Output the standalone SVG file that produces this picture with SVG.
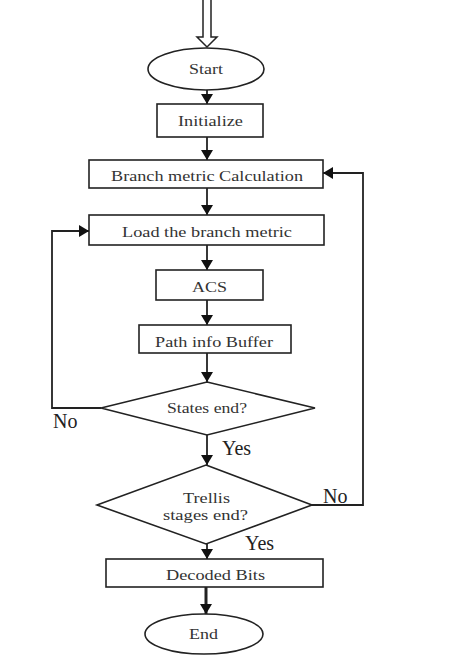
<svg xmlns="http://www.w3.org/2000/svg" width="474" height="664" viewBox="0 0 474 664">
<defs>
<style>
.box{fill:#fff;stroke:#222;stroke-width:1.6}
.t{font-family:"Liberation Serif","Times New Roman",serif;font-size:15px;fill:#333}
.lbl{font-family:"Liberation Serif","Times New Roman",serif;font-size:20px;fill:#222}
.ln{fill:none;stroke:#222;stroke-width:1.8}
</style>
<marker id="ah" viewBox="0 0 10 12" refX="10" refY="6" markerWidth="10" markerHeight="12" markerUnits="userSpaceOnUse" orient="auto">
<path d="M0,0 L10,6 L0,12 Z" fill="#111"/>
</marker>
</defs>
<rect width="474" height="664" fill="#fff"/>
<g id="connectors">
<path class="ln" d="M207,90 V104" marker-end="url(#ah)"/>
<path class="ln" d="M207,137 V160" marker-end="url(#ah)"/>
<path class="ln" d="M207,188 V215" marker-end="url(#ah)"/>
<path class="ln" d="M207,245 V270" marker-end="url(#ah)"/>
<path class="ln" d="M207,300 V325" marker-end="url(#ah)"/>
<path class="ln" d="M207,353 V382" marker-end="url(#ah)"/>
<path class="ln" d="M207,435 V465" marker-end="url(#ah)"/>
<path class="ln" d="M207,544 V559" marker-end="url(#ah)"/>
<path class="ln" d="M206,587 V614" style="stroke-width:3" marker-end="url(#ah)"/>
<path class="ln" d="M101,408 H52 V231 H89" marker-end="url(#ah)"/>
<path class="ln" d="M312,505 H363 V173 H323" marker-end="url(#ah)"/>
</g>
<g id="input">
<path d="M203,0 V37 H197 L207,47 L217,37 H211 V0" fill="#fff" stroke="#222" stroke-width="1.5"/>
</g>
<g id="start">
<ellipse class="box" cx="206" cy="69" rx="58" ry="21"/>
<text class="t" x="206" y="74" text-anchor="middle" textLength="34" lengthAdjust="spacingAndGlyphs">Start</text>
</g>
<g id="initialize">
<rect class="box" x="157" y="104" width="106" height="33"/>
<text class="t" x="210.5" y="126" text-anchor="middle" textLength="65" lengthAdjust="spacingAndGlyphs">Initialize</text>
</g>
<g id="branch">
<rect class="box" x="89" y="160" width="234" height="28"/>
<text class="t" x="207" y="181" text-anchor="middle" textLength="192" lengthAdjust="spacingAndGlyphs">Branch metric Calculation</text>
</g>
<g id="load">
<rect class="box" x="89" y="215" width="235" height="30"/>
<text class="t" x="207" y="237" text-anchor="middle" textLength="170" lengthAdjust="spacingAndGlyphs">Load the branch metric</text>
</g>
<g id="acs">
<rect class="box" x="156" y="270" width="107" height="30"/>
<text class="t" x="209.5" y="292" text-anchor="middle" textLength="35" lengthAdjust="spacingAndGlyphs">ACS</text>
</g>
<g id="path">
<rect class="box" x="139" y="325" width="152" height="28"/>
<text class="t" x="214" y="347" text-anchor="middle" textLength="118" lengthAdjust="spacingAndGlyphs">Path info Buffer</text>
</g>
<g id="states">
<polygon class="box" points="207,382 315,408 207,435 101,408"/>
<text class="t" x="207" y="413" text-anchor="middle" textLength="80" lengthAdjust="spacingAndGlyphs">States end?</text>
</g>
<g id="trellis">
<polygon class="box" points="206,465 312,505 206,544 97,505"/>
<text class="t" x="206.5" y="503" text-anchor="middle" textLength="47" lengthAdjust="spacingAndGlyphs">Trellis</text>
<text class="t" x="205.5" y="520" text-anchor="middle" textLength="85" lengthAdjust="spacingAndGlyphs">stages end?</text>
</g>
<g id="decoded">
<rect class="box" x="106" y="559" width="217" height="28"/>
<text class="t" x="215.5" y="580" text-anchor="middle" textLength="99" lengthAdjust="spacingAndGlyphs">Decoded Bits</text>
</g>
<g id="end">
<ellipse class="box" cx="204" cy="634" rx="59" ry="20"/>
<text class="t" x="203.5" y="639" text-anchor="middle" textLength="29" lengthAdjust="spacingAndGlyphs">End</text>
</g>
<g id="labels">
<text class="lbl" x="53" y="428">No</text>
<text class="lbl" x="222" y="455">Yes</text>
<text class="lbl" x="323" y="503">No</text>
<text class="lbl" x="245" y="550">Yes</text>
</g>
</svg>
